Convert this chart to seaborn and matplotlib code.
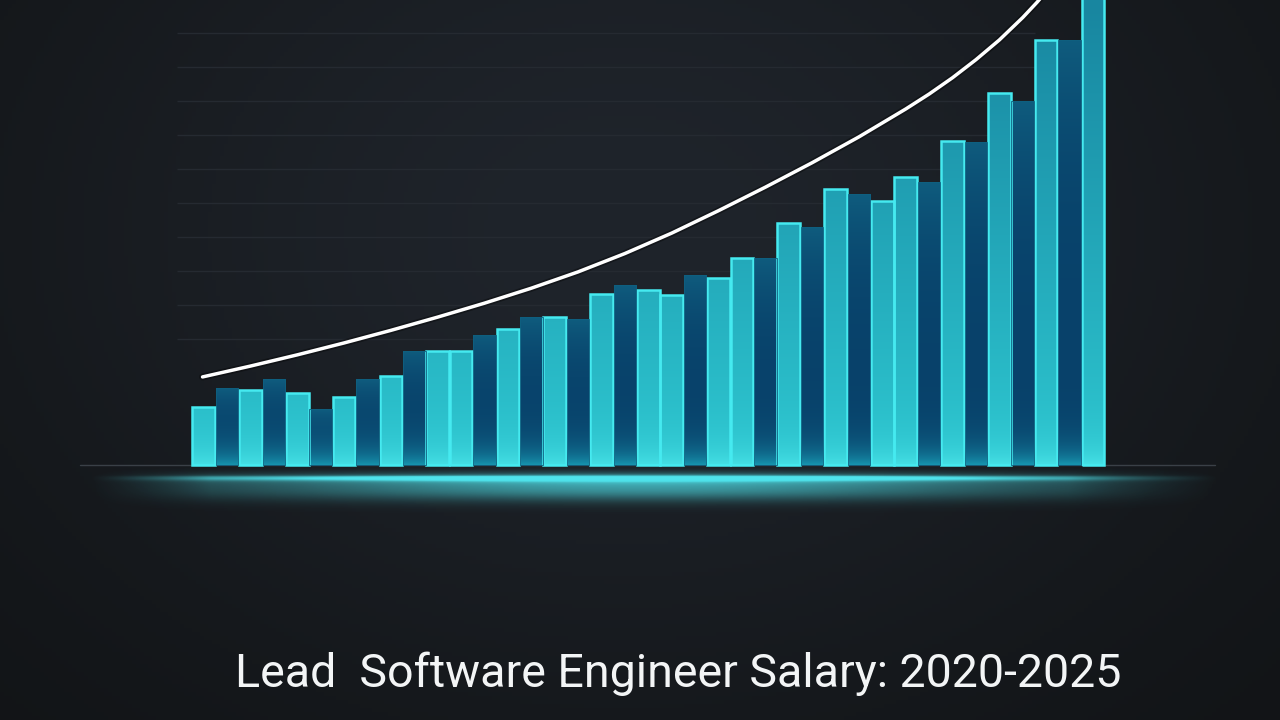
"""
Lead Software Engineer salary chart.
Glowing cyan bar chart with a white trend curve, saved to out.png.
"""

import numpy as np
import pandas as pd
import matplotlib
matplotlib.use('Agg')
import matplotlib.pyplot as plt
from matplotlib.colors import to_rgb
import seaborn as sns

# Data (salary index, arbitrary units)
periods = [f"P{i:02d}" for i in range(1, 40)]
salary = [17.1, 22.6, 22.0, 25.2, 21.2, 16.5, 20.0, 25.2, 26.1, 33.6,
          33.6, 33.6, 38.3, 40.0, 43.5, 43.5, 42.9, 50.4, 53.0, 51.6,
          49.9, 55.9, 55.1, 60.9, 60.9, 71.3, 70.1, 81.2, 79.7, 77.7,
          84.6, 83.2, 95.4, 95.1, 109.3, 107.2, 124.9, 124.9, 142.0]
shade = ['light', 'dark', 'light', 'dark', 'light', 'dark', 'light', 'dark',
         'light', 'dark', 'light', 'light', 'dark', 'light', 'dark', 'light',
         'dark', 'light', 'dark', 'light', 'light', 'dark', 'light', 'light',
         'dark', 'light', 'dark', 'light', 'dark', 'light', 'light', 'dark',
         'light', 'dark', 'light', 'dark', 'light', 'dark', 'light']

# Trend curve, sampled along the white line (bar-index position, value)
trend_pos = [-0.05, 2, 4, 6, 8, 10, 12, 14, 16, 18, 20, 22, 24, 26, 28,
             30, 31, 32, 33, 34, 35, 35.6, 36.3, 37]
trend_val = [25.9, 29.1, 32.4, 35.9, 39.6, 43.5, 47.6, 52.0, 56.8, 62.2,
             68.2, 74.8, 81.7, 88.9, 96.5, 104.7, 109.1, 113.9, 119.2,
             125.0, 131.6, 136.0, 141.5, 147.0]

grid_levels = [37, 47, 57, 67, 77, 87, 97, 107, 117, 127]

TITLE = "Lead  Software Engineer Salary: 2020-2025"

# Layout: one bar = 23.4 px, one value unit = 3.4 px, baseline at y=465 px
PX_BAR = 23.4
PX_VAL = 3.4
X0_PX = 203.7
BASE_PX = 465
W, H = 1280, 720


def lerp(c1, c2, t):
    c1 = np.array(to_rgb(c1))
    c2 = np.array(to_rgb(c2))
    t = np.asarray(t)[..., None]
    return c1 * (1 - t) + c2 * t


def make_background():
    yy, xx = np.mgrid[0:H:4, 0:W:4]
    dx = (xx - 620) / 820.0
    dy = (yy - 230) / 620.0
    w = np.exp(-(dx ** 2 + dy ** 2) * 1.6)
    return lerp('#101214', '#1f242b', w)


def bar_gradient(height, kind):
    ys = np.linspace(height, 0, 200)
    glow = np.exp(-ys / 5.0)[:, None]
    if kind == 'light':
        col = lerp('#2dc6d0', '#1886a0', np.clip(ys / 135.0, 0, 1))
        col = col + glow * (np.array(to_rgb('#4be6ea')) - col) * 0.8
    else:
        rel = np.clip(ys / height, 0, 1)
        col = lerp('#08416a', '#0f5c7e', rel ** 4)
        col = col + glow * (np.array(to_rgb('#1aa7be')) - col) * 0.8
    return col[:, None, :]


def main():
    sns.set_style("dark", {"axes.facecolor": "none", "figure.facecolor": "#16191d"})
    plt.rcParams['font.family'] = ['Roboto', 'DejaVu Sans']

    df = pd.DataFrame({'period': periods, 'salary': salary, 'shade': shade})

    fig = plt.figure(figsize=(12.8, 7.2), dpi=100)

    # Background vignette
    ax_bg = fig.add_axes([0, 0, 1, 1])
    ax_bg.imshow(make_background(), extent=[0, 1, 0, 1], aspect='auto')
    ax_bg.axis('off')

    ax = fig.add_axes([0, 0, 1, 1])
    ax.set_facecolor('none')

    xlim = (-X0_PX / PX_BAR, (W - X0_PX) / PX_BAR)
    ylim = ((BASE_PX - H) / PX_VAL, BASE_PX / PX_VAL)

    # Faint grid lines
    ax.hlines(grid_levels, (177 - X0_PX) / PX_BAR, (1035 - X0_PX) / PX_BAR,
              colors='#252a31', linewidth=1.0, zorder=0.5)

    sns.barplot(data=df, x='period', y='salary', hue='shade',
                hue_order=['light', 'dark'],
                palette={'light': '#1fa3b6', 'dark': '#0a4869'},
                dodge=False, width=0.97, saturation=1, legend=False,
                ax=ax, zorder=2)

    # Gradient fills clipped to each bar, bright rims on the light bars
    for patch in list(ax.patches):
        x0 = patch.get_x()
        w = patch.get_width()
        h = patch.get_height()
        idx = int(round(x0 + w / 2))
        kind = shade[idx]
        img = ax.imshow(bar_gradient(h, kind), extent=[x0, x0 + w, 0, h],
                        aspect='auto', zorder=2.5, interpolation='bilinear')
        img.set_clip_path(patch)
        patch.set_facecolor('none')
        patch.set_zorder(3)
        if kind == 'light':
            patch.set_edgecolor('#45eaf0')
            patch.set_linewidth(1.8)
        else:
            patch.set_edgecolor('#0f6080')
            patch.set_linewidth(0.6)

    # Baseline and glow strip under the bars
    ax.axhline(0, xmin=80 / W, xmax=1215 / W, color='#3a4047', lw=1.0, zorder=1)
    gx = np.linspace(xlim[0], xlim[1], 640)
    gy = np.linspace(-16, 0, 160)
    GX, GY = np.meshgrid(gx, gy)
    xpx = X0_PX + GX * PX_BAR
    hx = np.exp(-((xpx - 640) / 380.0) ** 2) * 0.85 + 0.15
    hx *= np.clip((xpx - 90) / 120, 0, 1) * np.clip((1220 - xpx) / 150, 0, 1)
    line = np.exp(-((GY + 4.1) / 0.7) ** 2)
    haze = np.exp(-((GY + 7.0) / 3.6) ** 2) * (GY < -3.5) * 0.6
    haze += np.exp(-((GY + 4.1) / 1.8) ** 2) * 0.5
    alpha = np.clip((line + haze) * hx, 0, 1)
    glow = np.zeros(GX.shape + (4,))
    glow[..., :3] = to_rgb('#4fe3ec')
    glow[..., 3] = alpha
    ax.imshow(glow, extent=[xlim[0], xlim[1], -16, 0], origin='lower',
              aspect='auto', zorder=1.5, interpolation='bilinear')

    # Trend curve
    sns.lineplot(x=trend_pos, y=trend_val, color='black', alpha=0.35,
                 linewidth=5, sort=False, ax=ax, zorder=4)
    sns.lineplot(x=trend_pos, y=trend_val, color='white', linewidth=2.5,
                 sort=False, ax=ax, zorder=5)

    ax.set_xlim(*xlim)
    ax.set_ylim(*ylim)
    ax.axis('off')

    fig.text(678 / W, 1 - 674 / H, TITLE, ha='center', va='center',
             color='#f3f5f6', fontsize=33.5,
             family=['Roboto', 'DejaVu Sans'])

    fig.savefig('out.png', dpi=100, facecolor=fig.get_facecolor())
    plt.close(fig)


if __name__ == "__main__":
    main()
